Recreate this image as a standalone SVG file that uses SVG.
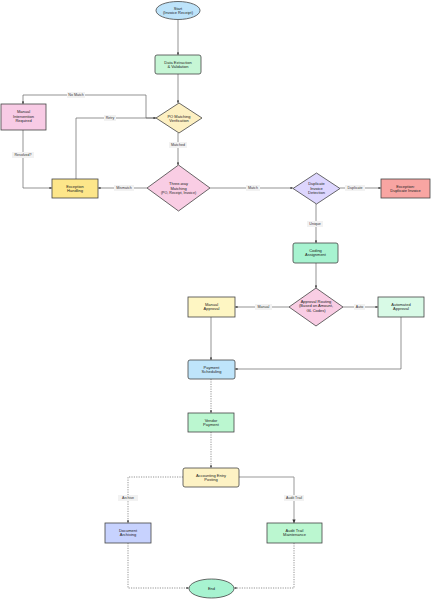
<svg xmlns="http://www.w3.org/2000/svg" width="434" height="599" viewBox="0 0 434 599">
<defs>
<marker id="arr" viewBox="0 0 10 10" refX="9" refY="5" markerWidth="4" markerHeight="4" orient="auto-start-reverse"><path d="M0,1 L10,5 L0,9 z" fill="#333"/></marker>
<style>
.n{stroke:#444;stroke-width:0.8}
.t{font-family:"Liberation Sans",Arial,sans-serif;font-size:4px;fill:#222;text-anchor:middle}
.e{fill:none;stroke:#666;stroke-width:0.7;marker-end:url(#arr)}
.d{stroke-dasharray:1.2,1.2}
.lb{fill:#f2f2f2}
.lt{font-family:"Liberation Sans",Arial,sans-serif;font-size:3.6px;fill:#333;text-anchor:middle}
</style>
</defs>
<rect width="434" height="599" fill="#fff"/>
<g id="edges">
<path class="e" d="M178,20 V55"/>
<path class="e" d="M178,74 V103"/>
<path class="e" d="M156,118 H146 V95 H23 V104"/>
<path class="e" d="M76,179 V118 H156"/>
<path class="e" d="M23,130 V188 H52"/>
<path class="e" d="M178,133 V165"/>
<path class="e" d="M147,188 H98"/>
<path class="e" d="M210,188 H293"/>
<path class="e" d="M340,188 H381"/>
<path class="e" d="M316,204 V243"/>
<path class="e" d="M316,263 V288"/>
<path class="e" d="M289,307 H235"/>
<path class="e" d="M343,307 H378"/>
<path class="e" d="M211,317 V360"/>
<path class="e" d="M401,317 V369 H235"/>
<path class="e d" d="M211,379 V413"/>
<path class="e d" d="M211,432 V468"/>
<path class="e d" d="M183,477 H128 V523"/>
<path class="e" style="stroke:#999;stroke-width:1" d="M239,477 H294 V523"/>
<path class="e d" d="M128,543 V588 H189"/>
<path class="e d" d="M294,543 V588 H234"/>
<rect class="lb" x="67" y="92" width="18" height="6"/><text class="lt" x="76" y="96.3">No Match</text>
<rect class="lb" x="104" y="115" width="12" height="6"/><text class="lt" x="110" y="119.3">Retry</text>
<rect class="lb" x="12" y="152" width="22" height="6"/><text class="lt" x="23" y="156.3">Resolved?</text>
<rect class="lb" x="169" y="142" width="18" height="6"/><text class="lt" x="178" y="146.3">Matched</text>
<rect class="lb" x="114" y="185" width="20" height="6"/><text class="lt" x="124" y="189.3">Mismatch</text>
<rect class="lb" x="246" y="185" width="14" height="6"/><text class="lt" x="253" y="189.3">Match</text>
<rect class="lb" x="345" y="185" width="20" height="6"/><text class="lt" x="355" y="189.3">Duplicate</text>
<rect class="lb" x="307" y="221" width="16" height="6"/><text class="lt" x="315" y="225.3">Unique</text>
<rect class="lb" x="255" y="304" width="17" height="6"/><text class="lt" x="263.5" y="308.3">Manual</text>
<rect class="lb" x="354" y="304" width="11" height="6"/><text class="lt" x="359.5" y="308.3">Auto</text>
<rect class="lb" x="118" y="495" width="20" height="6"/><text class="lt" x="128" y="499.3">Archive</text>
<rect class="lb" x="284" y="495" width="20" height="6"/><text class="lt" x="294" y="499.3">Audit Trail</text>
</g>
<g id="start"><ellipse class="n" cx="178" cy="10.5" rx="22" ry="9" fill="#bde3fa" stroke="#3b6ea8"/><text class="t" x="178" y="9.5">Start</text><text class="t" x="178" y="14">(Invoice Receipt)</text></g>
<g id="extract"><rect class="n" x="155" y="55" width="46" height="19" rx="2" fill="#c6f6d5"/><text class="t" x="178" y="63.5">Data Extraction</text><text class="t" x="178" y="68">&amp; Validation</text></g>
<g id="po"><path class="n" d="M179,103 L202,118 L179,133 L156,118 Z" fill="#fdf0c2"/><text class="t" x="179" y="117.5">PO Matching</text><text class="t" x="179" y="122">Verification</text></g>
<g id="manualint"><rect class="n" x="1" y="104" width="45" height="26" fill="#f8cbe5"/><text class="t" x="23.5" y="113">Manual</text><text class="t" x="23.5" y="117.5">Intervention</text><text class="t" x="23.5" y="122">Required</text></g>
<g id="exception"><rect class="n" x="52" y="179" width="46" height="19" fill="#fde68a"/><text class="t" x="75" y="187.5">Exception</text><text class="t" x="75" y="192">Handling</text></g>
<g id="threeway"><path class="n" d="M178.5,165 L210,188 L178.5,211 L147,188 Z" fill="#f9cde4"/><text class="t" x="178.5" y="185">Three-way</text><text class="t" x="178.5" y="189.5">Matching</text><text class="t" x="178.5" y="194" style="font-size:3.6px">(PO, Receipt, Invoice)</text></g>
<g id="dup"><path class="n" d="M316.5,173 L340,188.5 L316.5,204 L293,188.5 Z" fill="#ddd6fe"/><text class="t" x="316.5" y="185">Duplicate</text><text class="t" x="316.5" y="189.5">Invoice</text><text class="t" x="316.5" y="194">Detection</text></g>
<g id="exdup"><rect class="n" x="381" y="179" width="49" height="19" fill="#f8a5a2"/><text class="t" x="405.5" y="187.5">Exception:</text><text class="t" x="405.5" y="192">Duplicate Invoice</text></g>
<g id="coding"><rect class="n" x="293" y="243" width="45" height="20" rx="2" fill="#a7f3d0"/><text class="t" x="315.5" y="251.5">Coding</text><text class="t" x="315.5" y="256">Assignment</text></g>
<g id="approval"><path class="n" d="M316,288 L343,307 L316,326 L289,307 Z" fill="#f9cde4"/><text class="t" x="316" y="302.5">Approval Routing</text><text class="t" x="316" y="307">(Based on Amount,</text><text class="t" x="316" y="311.5">GL Codes)</text></g>
<g id="manualappr"><rect class="n" x="188" y="297" width="47" height="20" fill="#fef6c3"/><text class="t" x="211.5" y="305.5">Manual</text><text class="t" x="211.5" y="310">Approval</text></g>
<g id="autoappr"><rect class="n" x="378" y="297" width="46" height="20" fill="#d8fae6"/><text class="t" x="401" y="305.5">Automated</text><text class="t" x="401" y="310">Approval</text></g>
<g id="paysched"><rect class="n" x="188" y="360" width="47" height="19" rx="2" fill="#bfe5fb"/><text class="t" x="211.5" y="368.5">Payment</text><text class="t" x="211.5" y="373">Scheduling</text></g>
<g id="vendor"><rect class="n" x="188" y="413" width="46" height="19" fill="#bbf7d0"/><text class="t" x="211" y="421.5">Vendor</text><text class="t" x="211" y="426">Payment</text></g>
<g id="accounting"><rect class="n" x="183" y="468" width="56" height="19" rx="2" fill="#fdf2c4"/><text class="t" x="211" y="476.5">Accounting Entry</text><text class="t" x="211" y="481">Posting</text></g>
<g id="archive"><rect class="n" x="105" y="523" width="46" height="20" fill="#c7d2fe"/><text class="t" x="128" y="531.5">Document</text><text class="t" x="128" y="536">Archiving</text></g>
<g id="audit"><rect class="n" x="267" y="523" width="55" height="20" fill="#bbf7d0"/><text class="t" x="294.5" y="531.5">Audit Trail</text><text class="t" x="294.5" y="536">Maintenance</text></g>
<g id="end"><ellipse class="n" cx="211.5" cy="588.5" rx="22.5" ry="9.5" fill="#a7f3d0"/><text class="t" x="211.5" y="590">End</text></g>
</svg>
